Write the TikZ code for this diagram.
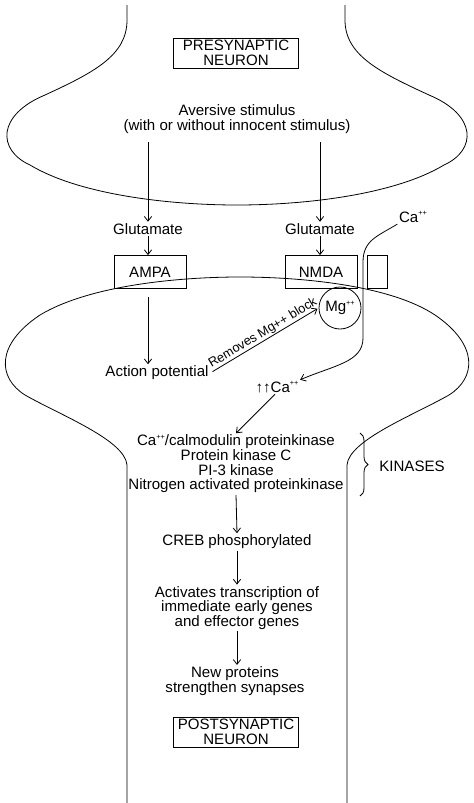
\documentclass[tikz,border=0pt]{standalone}
\usepackage{fontspec}
\setmainfont{Liberation Sans}
\usepackage{tikz}
\usetikzlibrary{arrows.meta}
\usetikzlibrary{decorations.pathreplacing}

\newcommand{\ionpp}{\raisebox{0.8ex}{\fontsize{5.5}{5.5}\selectfont ++}}

\tikzset{
  txt/.style={align=center, inner sep=1pt},
  namebox/.style={draw, align=center, minimum width=94pt, minimum height=22.5pt, inner sep=1pt},
  recbox/.style={draw, minimum width=54pt, minimum height=24.75pt, inner sep=0pt},
}

\begin{document}
\begin{tikzpicture}[x=0.75pt, y=-0.75pt, >={Straight Barb[length=3.5pt,width=5.5pt]},
  line width=0.6pt, font=\fontsize{11.3}{11}\selectfont]

  \useasboundingbox (0,0) rectangle (474,803);

  \draw (127,5) -- (127,20) .. controls (127,55) and (95,72) .. (45,95)
    .. controls (-3,115) and (-3,150) .. (30,165)
    .. controls (80,195) and (170,205) .. (237,205)
    .. controls (304,205) and (394,195) .. (444,165)
    .. controls (477,150) and (477,115) .. (429,95)
    .. controls (379,72) and (345,55) .. (345,20) -- (345,5);

  \draw (127,803) -- (127,465) .. controls (125,440) and (60,415) .. (25,395)
    .. controls (-2,378) and (-5,345) .. (40,315)
    .. controls (90,285) and (180,277) .. (240,277)
    .. controls (300,277) and (390,285) .. (435,315)
    .. controls (479,345) and (476,378) .. (449,395)
    .. controls (414,415) and (349,440) .. (347,465) -- (347,803);

  \node [namebox] (pre) at (236,53) {PRESYNAPTIC\\NEURON};
  \node [txt] (stim) at (237,119) {Aversive stimulus\\(with or without innocent stimulus)};

  \node [txt] (glu1) at (148,229) {Glutamate};
  \node [txt] (glu2) at (320,229) {Glutamate};

  \node [recbox] (ampa) at (150,272) {AMPA};
  \node [recbox] (nmda) at (321,272) {NMDA};
  \node [recbox, minimum width=15pt] (chan) at (377,272) {};
  \node [draw, circle, minimum size=31.5pt, inner sep=0pt] (mg) at (340,308) {Mg\ionpp};

  \node [txt] (act) at (157,373) {Action potential};
  \node [txt] (ca) at (413,217) {Ca\ionpp};
  \node [txt] (upca) at (277,387) {↑↑Ca\ionpp};

  \node [txt] (kin) at (236,464) {Ca\ionpp/calmodulin proteinkinase\\Protein kinase C\\PI-3 kinase\\Nitrogen activated proteinkinase};
  \node [txt] (kinases) at (412,466) {KINASES};

  \node [txt] (creb) at (237,542) {CREB phosphorylated};
  \node [txt] (trans) at (237,608) {Activates transcription of\\immediate early genes\\and effector genes};
  \node [txt] (newp) at (235,681) {New proteins\\strengthen synapses};
  \node [namebox] (post) at (236,732) {POSTSYNAPTIC\\NEURON};

  \draw [->] (glu1 |- 0,142) -- (glu1.north);
  \draw [->] (glu2 |- 0,142) -- (glu2.north);
  \draw [->] (glu1.south) -- (glu1 |- ampa.north);
  \draw [->] (glu2.south) -- (glu2 |- nmda.north);
  \draw [->] (glu1 |- ampa.south) ++(0,8) -- (glu1 |- act.north);

  \draw [->, shorten <=2pt, shorten >=1pt] (act.east) -- node[sloped, above, pos=0.52, inner sep=0.5pt, font=\fontsize{9.6}{9.6}\selectfont] {Removes Mg++ block} (mg.west);

  \draw [->] (ca.south west) .. controls (378,236) and (363,240) .. (363,262)
    -- (363,338) .. controls (363,362) and (335,365) .. (upca.north east);
  \draw [->] (upca.south) ++(-2,0) -- (kin.north);

  \draw [decorate, decoration={brace, amplitude=6pt}] (360,433) -- (360,496);

  \draw [->] (kin.south) -- (creb.north);
  \draw [->] (creb.south) -- (trans.north);
  \draw [->] (trans.south) -- (trans.south |- newp.north);

\end{tikzpicture}
\end{document}
